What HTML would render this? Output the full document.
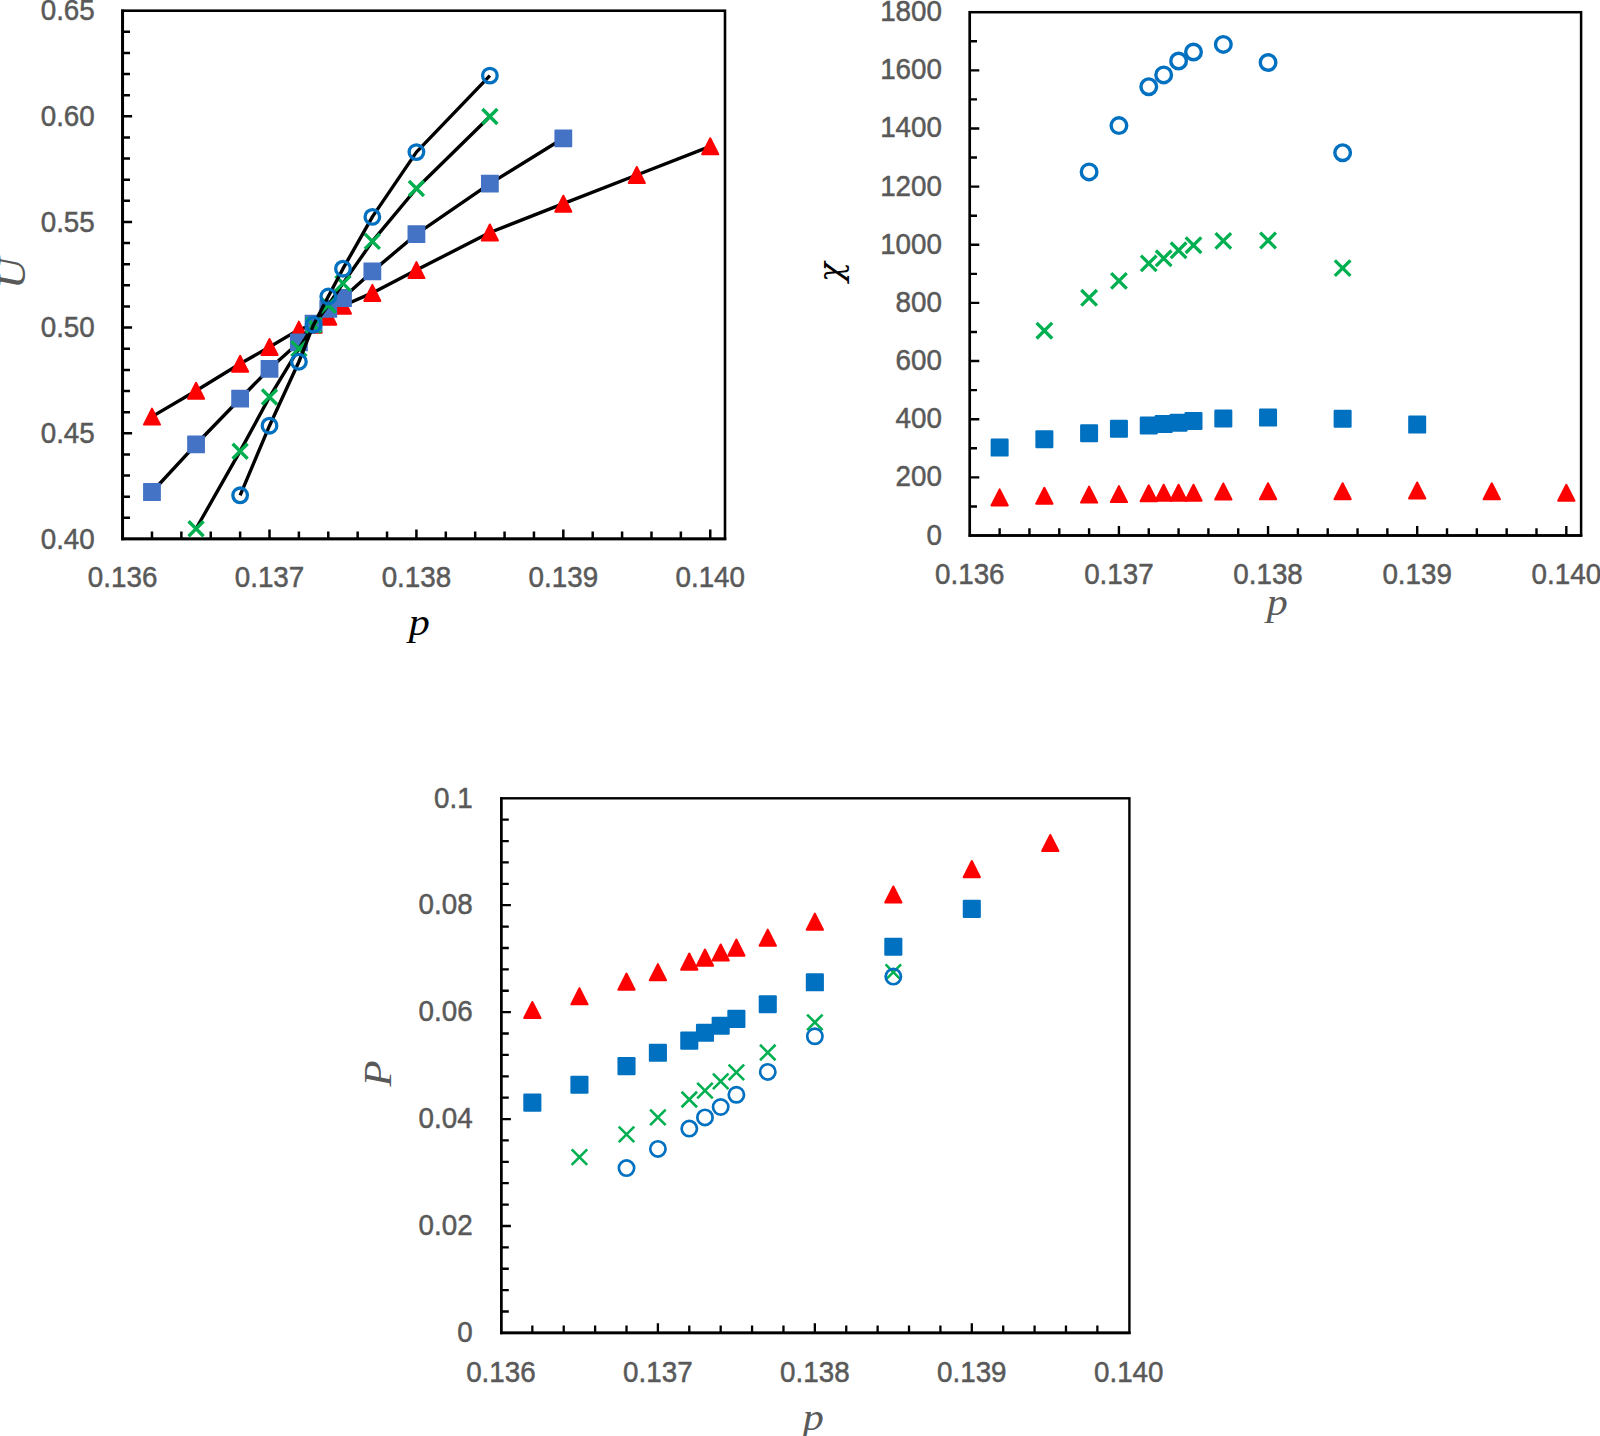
<!DOCTYPE html>
<html lang="en">
<head>
<meta charset="utf-8">
<title>U, χ and P versus p</title>
<style>
html,body{margin:0;padding:0;background:#fff;}
body{width:1600px;height:1436px;overflow:hidden;}
svg{display:block;}
svg text{font-family:"Liberation Sans",sans-serif;font-size:28.6px;fill:#595959;}
svg g.lab text{stroke:#595959;stroke-width:0.5px;}
svg text.it{font-family:"Liberation Serif",serif;font-style:italic;}
svg text.chi{font-family:"DejaVu Serif","Liberation Serif",serif;font-style:italic;}
</style>
</head>
<body>
<svg width="1600" height="1436" viewBox="0 0 1600 1436">
<rect width="1600" height="1436" fill="#fff"/>
<g id="chart1">
<rect x="122.6" y="10.7" width="602.4" height="528.2" fill="none" stroke="#000" stroke-width="2.6"/>
<path d="M122.6 9.4V540.3" fill="none" stroke="#000" stroke-width="2.9"/>
<path d="M121.15 538.9H726.3" fill="none" stroke="#000" stroke-width="2.8"/>
<path d="M122.6 433.26h9.5M122.6 327.62h9.5M122.6 221.98h9.5M122.6 116.34h9.5M122.6 517.77h7.4M122.6 496.64h7.4M122.6 475.52h7.4M122.6 454.39h7.4M122.6 412.13h7.4M122.6 391h7.4M122.6 369.88h7.4M122.6 348.75h7.4M122.6 306.49h7.4M122.6 285.36h7.4M122.6 264.24h7.4M122.6 243.11h7.4M122.6 200.85h7.4M122.6 179.72h7.4M122.6 158.6h7.4M122.6 137.47h7.4M122.6 95.21h7.4M122.6 74.08h7.4M122.6 52.96h7.4M122.6 31.83h7.4M269.51 538.9v-9.5M416.42 538.9v-9.5M563.33 538.9v-9.5M710.24 538.9v-9.5M151.98 538.9v-7.4M181.36 538.9v-7.4M210.75 538.9v-7.4M240.13 538.9v-7.4M298.89 538.9v-7.4M328.27 538.9v-7.4M357.66 538.9v-7.4M387.04 538.9v-7.4M445.8 538.9v-7.4M475.18 538.9v-7.4M504.57 538.9v-7.4M533.95 538.9v-7.4M592.71 538.9v-7.4M622.09 538.9v-7.4M651.48 538.9v-7.4M680.86 538.9v-7.4" fill="none" stroke="#000" stroke-width="2.5"/>
<g class="lab">
<text x="94.8" y="548.5" text-anchor="end" textLength="54.1" lengthAdjust="spacingAndGlyphs">0.40</text>
<text x="94.8" y="442.86" text-anchor="end" textLength="54.1" lengthAdjust="spacingAndGlyphs">0.45</text>
<text x="94.8" y="337.22" text-anchor="end" textLength="54.1" lengthAdjust="spacingAndGlyphs">0.50</text>
<text x="94.8" y="231.58" text-anchor="end" textLength="54.1" lengthAdjust="spacingAndGlyphs">0.55</text>
<text x="94.8" y="125.94" text-anchor="end" textLength="54.1" lengthAdjust="spacingAndGlyphs">0.60</text>
<text x="94.8" y="20.3" text-anchor="end" textLength="54.1" lengthAdjust="spacingAndGlyphs">0.65</text>
</g>
<g class="lab">
<text x="122.6" y="587.3" text-anchor="middle" textLength="69.56" lengthAdjust="spacingAndGlyphs">0.136</text>
<text x="269.51" y="587.3" text-anchor="middle" textLength="69.56" lengthAdjust="spacingAndGlyphs">0.137</text>
<text x="416.42" y="587.3" text-anchor="middle" textLength="69.56" lengthAdjust="spacingAndGlyphs">0.138</text>
<text x="563.33" y="587.3" text-anchor="middle" textLength="69.56" lengthAdjust="spacingAndGlyphs">0.139</text>
<text x="710.24" y="587.3" text-anchor="middle" textLength="69.56" lengthAdjust="spacingAndGlyphs">0.140</text>
</g>
<polyline points="151.98,416.6 196.06,390.8 240.13,363.8 269.51,347 298.89,329.6 313.58,324.8 328.27,316.7 342.97,305.7 372.35,292.9 416.42,270.1 489.88,232.5 563.33,203.7 636.79,175 710.24,146.3" fill="none" stroke="#000" stroke-width="3.4" stroke-linejoin="round"/>
<path d="M151.98 408.6L160.03 424.6L143.93 424.6Z" fill="#FF0000" stroke="#FF0000" stroke-width="2" stroke-linejoin="round"/>
<path d="M196.06 382.8L204.11 398.8L188.01 398.8Z" fill="#FF0000" stroke="#FF0000" stroke-width="2" stroke-linejoin="round"/>
<path d="M240.13 355.8L248.18 371.8L232.08 371.8Z" fill="#FF0000" stroke="#FF0000" stroke-width="2" stroke-linejoin="round"/>
<path d="M269.51 339L277.56 355L261.46 355Z" fill="#FF0000" stroke="#FF0000" stroke-width="2" stroke-linejoin="round"/>
<path d="M298.89 321.6L306.94 337.6L290.84 337.6Z" fill="#FF0000" stroke="#FF0000" stroke-width="2" stroke-linejoin="round"/>
<path d="M313.58 316.8L321.63 332.8L305.53 332.8Z" fill="#FF0000" stroke="#FF0000" stroke-width="2" stroke-linejoin="round"/>
<path d="M328.27 308.7L336.32 324.7L320.22 324.7Z" fill="#FF0000" stroke="#FF0000" stroke-width="2" stroke-linejoin="round"/>
<path d="M342.97 297.7L351.02 313.7L334.92 313.7Z" fill="#FF0000" stroke="#FF0000" stroke-width="2" stroke-linejoin="round"/>
<path d="M372.35 284.9L380.4 300.9L364.3 300.9Z" fill="#FF0000" stroke="#FF0000" stroke-width="2" stroke-linejoin="round"/>
<path d="M416.42 262.1L424.47 278.1L408.37 278.1Z" fill="#FF0000" stroke="#FF0000" stroke-width="2" stroke-linejoin="round"/>
<path d="M489.88 224.5L497.93 240.5L481.83 240.5Z" fill="#FF0000" stroke="#FF0000" stroke-width="2" stroke-linejoin="round"/>
<path d="M563.33 195.7L571.38 211.7L555.28 211.7Z" fill="#FF0000" stroke="#FF0000" stroke-width="2" stroke-linejoin="round"/>
<path d="M636.79 167L644.84 183L628.74 183Z" fill="#FF0000" stroke="#FF0000" stroke-width="2" stroke-linejoin="round"/>
<path d="M710.24 138.3L718.29 154.3L702.19 154.3Z" fill="#FF0000" stroke="#FF0000" stroke-width="2" stroke-linejoin="round"/>
<polyline points="151.98,492 196.06,444.3 240.13,398.7 269.51,368.8 298.89,342.4 313.58,323.6 328.27,308.8 342.97,298 372.35,271.4 416.42,234.2 489.88,183.6 563.33,138.3" fill="none" stroke="#000" stroke-width="3.4" stroke-linejoin="round"/>
<rect x="143.08" y="483.1" width="17.8" height="17.8" rx="0.5" fill="#4472C4"/>
<rect x="187.16" y="435.4" width="17.8" height="17.8" rx="0.5" fill="#4472C4"/>
<rect x="231.23" y="389.8" width="17.8" height="17.8" rx="0.5" fill="#4472C4"/>
<rect x="260.61" y="359.9" width="17.8" height="17.8" rx="0.5" fill="#4472C4"/>
<rect x="289.99" y="333.5" width="17.8" height="17.8" rx="0.5" fill="#4472C4"/>
<rect x="304.68" y="314.7" width="17.8" height="17.8" rx="0.5" fill="#4472C4"/>
<rect x="319.37" y="299.9" width="17.8" height="17.8" rx="0.5" fill="#4472C4"/>
<rect x="334.07" y="289.1" width="17.8" height="17.8" rx="0.5" fill="#4472C4"/>
<rect x="363.45" y="262.5" width="17.8" height="17.8" rx="0.5" fill="#4472C4"/>
<rect x="407.52" y="225.3" width="17.8" height="17.8" rx="0.5" fill="#4472C4"/>
<rect x="480.98" y="174.7" width="17.8" height="17.8" rx="0.5" fill="#4472C4"/>
<rect x="554.43" y="129.4" width="17.8" height="17.8" rx="0.5" fill="#4472C4"/>
<polyline points="196.06,528.75 240.13,451.2 269.51,397.05 298.89,348.6 313.58,325.3 328.27,305.3 342.97,283.4 372.35,241.4 416.42,188.5 489.88,116.5" fill="none" stroke="#000" stroke-width="3.4" stroke-linejoin="round"/>
<path d="M188.56 521.25L203.56 536.25M188.56 536.25L203.56 521.25" stroke="#00B050" stroke-width="3.4" fill="none"/>
<path d="M232.63 443.7L247.63 458.7M232.63 458.7L247.63 443.7" stroke="#00B050" stroke-width="3.4" fill="none"/>
<path d="M262.01 389.55L277.01 404.55M262.01 404.55L277.01 389.55" stroke="#00B050" stroke-width="3.4" fill="none"/>
<path d="M291.39 341.1L306.39 356.1M291.39 356.1L306.39 341.1" stroke="#00B050" stroke-width="3.4" fill="none"/>
<path d="M306.08 317.8L321.08 332.8M306.08 332.8L321.08 317.8" stroke="#00B050" stroke-width="3.4" fill="none"/>
<path d="M320.77 297.8L335.77 312.8M320.77 312.8L335.77 297.8" stroke="#00B050" stroke-width="3.4" fill="none"/>
<path d="M335.47 275.9L350.47 290.9M335.47 290.9L350.47 275.9" stroke="#00B050" stroke-width="3.4" fill="none"/>
<path d="M364.85 233.9L379.85 248.9M364.85 248.9L379.85 233.9" stroke="#00B050" stroke-width="3.4" fill="none"/>
<path d="M408.92 181L423.92 196M408.92 196L423.92 181" stroke="#00B050" stroke-width="3.4" fill="none"/>
<path d="M482.38 109L497.38 124M482.38 124L497.38 109" stroke="#00B050" stroke-width="3.4" fill="none"/>
<polyline points="240.13,495.3 269.51,425.7 298.89,361.75 313.58,324.7 328.27,296.5 342.97,268.7 372.35,216.9 416.42,152.1 489.88,75.6" fill="none" stroke="#000" stroke-width="3.4" stroke-linejoin="round"/>
<circle cx="240.13" cy="495.3" r="7.3" stroke="#0070C0" stroke-width="3.3" fill="none"/>
<circle cx="269.51" cy="425.7" r="7.3" stroke="#0070C0" stroke-width="3.3" fill="none"/>
<circle cx="298.89" cy="361.75" r="7.3" stroke="#0070C0" stroke-width="3.3" fill="none"/>
<circle cx="313.58" cy="324.7" r="7.3" stroke="#0070C0" stroke-width="3.3" fill="none"/>
<circle cx="328.27" cy="296.5" r="7.3" stroke="#0070C0" stroke-width="3.3" fill="none"/>
<circle cx="342.97" cy="268.7" r="7.3" stroke="#0070C0" stroke-width="3.3" fill="none"/>
<circle cx="372.35" cy="216.9" r="7.3" stroke="#0070C0" stroke-width="3.3" fill="none"/>
<circle cx="416.42" cy="152.1" r="7.3" stroke="#0070C0" stroke-width="3.3" fill="none"/>
<circle cx="489.88" cy="75.6" r="7.3" stroke="#0070C0" stroke-width="3.3" fill="none"/>
<text class="it" transform="translate(419.2 635) scale(1.14 1)" text-anchor="middle" style="font-size:37px;fill:#000">p</text>
<text class="it" transform="translate(24.8 273.2) rotate(-90) scale(1.09 1)" text-anchor="middle" style="font-size:40px;fill:#595959">U</text>
</g>
<g id="chart2">
<rect x="969.8" y="12.2" width="611.3" height="523.3" fill="none" stroke="#000" stroke-width="2.5"/>
<path d="M969.8 10.95V536.85" fill="none" stroke="#000" stroke-width="2.3"/>
<path d="M968.65 535.5H1582.35" fill="none" stroke="#000" stroke-width="2.7"/>
<path d="M969.8 477.36h9.5M969.8 419.21h9.5M969.8 361.07h9.5M969.8 302.92h9.5M969.8 244.78h9.5M969.8 186.63h9.5M969.8 128.49h9.5M969.8 70.34h9.5M969.8 506.43h7.2M969.8 448.28h7.2M969.8 390.14h7.2M969.8 331.99h7.2M969.8 273.85h7.2M969.8 215.71h7.2M969.8 157.56h7.2M969.8 99.42h7.2M969.8 41.27h7.2M1118.93 535.5v-9.5M1268.06 535.5v-9.5M1417.19 535.5v-9.5M1566.32 535.5v-9.5M999.63 535.5v-7.2M1029.45 535.5v-7.2M1059.28 535.5v-7.2M1089.1 535.5v-7.2M1148.76 535.5v-7.2M1178.58 535.5v-7.2M1208.41 535.5v-7.2M1238.23 535.5v-7.2M1297.89 535.5v-7.2M1327.71 535.5v-7.2M1357.54 535.5v-7.2M1387.36 535.5v-7.2M1447.02 535.5v-7.2M1476.84 535.5v-7.2M1506.67 535.5v-7.2M1536.49 535.5v-7.2" fill="none" stroke="#000" stroke-width="2.4"/>
<g class="lab">
<text x="942" y="544.5" text-anchor="end" textLength="15.46" lengthAdjust="spacingAndGlyphs">0</text>
<text x="942" y="486.36" text-anchor="end" textLength="46.38" lengthAdjust="spacingAndGlyphs">200</text>
<text x="942" y="428.21" text-anchor="end" textLength="46.38" lengthAdjust="spacingAndGlyphs">400</text>
<text x="942" y="370.07" text-anchor="end" textLength="46.38" lengthAdjust="spacingAndGlyphs">600</text>
<text x="942" y="311.92" text-anchor="end" textLength="46.38" lengthAdjust="spacingAndGlyphs">800</text>
<text x="942" y="253.78" text-anchor="end" textLength="61.84" lengthAdjust="spacingAndGlyphs">1000</text>
<text x="942" y="195.63" text-anchor="end" textLength="61.84" lengthAdjust="spacingAndGlyphs">1200</text>
<text x="942" y="137.49" text-anchor="end" textLength="61.84" lengthAdjust="spacingAndGlyphs">1400</text>
<text x="942" y="79.34" text-anchor="end" textLength="61.84" lengthAdjust="spacingAndGlyphs">1600</text>
<text x="942" y="21.2" text-anchor="end" textLength="61.84" lengthAdjust="spacingAndGlyphs">1800</text>
</g>
<g class="lab">
<text x="969.8" y="583.9" text-anchor="middle" textLength="69.56" lengthAdjust="spacingAndGlyphs">0.136</text>
<text x="1118.93" y="583.9" text-anchor="middle" textLength="69.56" lengthAdjust="spacingAndGlyphs">0.137</text>
<text x="1268.06" y="583.9" text-anchor="middle" textLength="69.56" lengthAdjust="spacingAndGlyphs">0.138</text>
<text x="1417.19" y="583.9" text-anchor="middle" textLength="69.56" lengthAdjust="spacingAndGlyphs">0.139</text>
<text x="1566.32" y="583.9" text-anchor="middle" textLength="69.56" lengthAdjust="spacingAndGlyphs">0.140</text>
</g>
<path d="M999.63 489.4L1007.78 505.4L991.48 505.4Z" fill="#FF0000" stroke="#FF0000" stroke-width="2" stroke-linejoin="round"/>
<path d="M1044.37 487.8L1052.52 503.8L1036.21 503.8Z" fill="#FF0000" stroke="#FF0000" stroke-width="2" stroke-linejoin="round"/>
<path d="M1089.1 486.6L1097.25 502.6L1080.95 502.6Z" fill="#FF0000" stroke="#FF0000" stroke-width="2" stroke-linejoin="round"/>
<path d="M1118.93 486.1L1127.08 502.1L1110.78 502.1Z" fill="#FF0000" stroke="#FF0000" stroke-width="2" stroke-linejoin="round"/>
<path d="M1148.76 485.3L1156.91 501.3L1140.61 501.3Z" fill="#FF0000" stroke="#FF0000" stroke-width="2" stroke-linejoin="round"/>
<path d="M1163.67 484.7L1171.82 500.7L1155.52 500.7Z" fill="#FF0000" stroke="#FF0000" stroke-width="2" stroke-linejoin="round"/>
<path d="M1178.58 484.7L1186.73 500.7L1170.43 500.7Z" fill="#FF0000" stroke="#FF0000" stroke-width="2" stroke-linejoin="round"/>
<path d="M1193.5 484.7L1201.65 500.7L1185.35 500.7Z" fill="#FF0000" stroke="#FF0000" stroke-width="2" stroke-linejoin="round"/>
<path d="M1223.32 483.5L1231.47 499.5L1215.17 499.5Z" fill="#FF0000" stroke="#FF0000" stroke-width="2" stroke-linejoin="round"/>
<path d="M1268.06 483.2L1276.21 499.2L1259.91 499.2Z" fill="#FF0000" stroke="#FF0000" stroke-width="2" stroke-linejoin="round"/>
<path d="M1342.63 483.2L1350.78 499.2L1334.48 499.2Z" fill="#FF0000" stroke="#FF0000" stroke-width="2" stroke-linejoin="round"/>
<path d="M1417.19 482.5L1425.34 498.5L1409.04 498.5Z" fill="#FF0000" stroke="#FF0000" stroke-width="2" stroke-linejoin="round"/>
<path d="M1491.76 483.3L1499.91 499.3L1483.61 499.3Z" fill="#FF0000" stroke="#FF0000" stroke-width="2" stroke-linejoin="round"/>
<path d="M1566.32 484.8L1574.47 500.8L1558.17 500.8Z" fill="#FF0000" stroke="#FF0000" stroke-width="2" stroke-linejoin="round"/>
<rect x="990.63" y="438.6" width="18" height="18" rx="1.2" fill="#0070C0"/>
<rect x="1035.37" y="430.2" width="18" height="18" rx="1.2" fill="#0070C0"/>
<rect x="1080.1" y="424.2" width="18" height="18" rx="1.2" fill="#0070C0"/>
<rect x="1109.93" y="419.8" width="18" height="18" rx="1.2" fill="#0070C0"/>
<rect x="1139.76" y="416.5" width="18" height="18" rx="1.2" fill="#0070C0"/>
<rect x="1154.67" y="415.1" width="18" height="18" rx="1.2" fill="#0070C0"/>
<rect x="1169.58" y="413.8" width="18" height="18" rx="1.2" fill="#0070C0"/>
<rect x="1184.5" y="411.9" width="18" height="18" rx="1.2" fill="#0070C0"/>
<rect x="1214.32" y="409.5" width="18" height="18" rx="1.2" fill="#0070C0"/>
<rect x="1259.06" y="408.6" width="18" height="18" rx="1.2" fill="#0070C0"/>
<rect x="1333.63" y="409.7" width="18" height="18" rx="1.2" fill="#0070C0"/>
<rect x="1408.19" y="415.6" width="18" height="18" rx="1.2" fill="#0070C0"/>
<path d="M1036.57 322.9L1052.16 338.5M1036.57 338.5L1052.16 322.9" stroke="#00B050" stroke-width="3.3" fill="none"/>
<path d="M1081.3 290L1096.9 305.6M1081.3 305.6L1096.9 290" stroke="#00B050" stroke-width="3.3" fill="none"/>
<path d="M1111.13 273.1L1126.73 288.7M1111.13 288.7L1126.73 273.1" stroke="#00B050" stroke-width="3.3" fill="none"/>
<path d="M1140.96 255.6L1156.56 271.2M1140.96 271.2L1156.56 255.6" stroke="#00B050" stroke-width="3.3" fill="none"/>
<path d="M1155.87 250.5L1171.47 266.1M1155.87 266.1L1171.47 250.5" stroke="#00B050" stroke-width="3.3" fill="none"/>
<path d="M1170.78 242.5L1186.38 258.1M1170.78 258.1L1186.38 242.5" stroke="#00B050" stroke-width="3.3" fill="none"/>
<path d="M1185.7 237.4L1201.3 253M1185.7 253L1201.3 237.4" stroke="#00B050" stroke-width="3.3" fill="none"/>
<path d="M1215.52 233.1L1231.12 248.7M1215.52 248.7L1231.12 233.1" stroke="#00B050" stroke-width="3.3" fill="none"/>
<path d="M1260.26 232.7L1275.86 248.3M1260.26 248.3L1275.86 232.7" stroke="#00B050" stroke-width="3.3" fill="none"/>
<path d="M1334.83 260.3L1350.43 275.9M1334.83 275.9L1350.43 260.3" stroke="#00B050" stroke-width="3.3" fill="none"/>
<circle cx="1089.1" cy="171.9" r="7.8" stroke="#0070C0" stroke-width="3.4" fill="none"/>
<circle cx="1118.93" cy="125.6" r="7.8" stroke="#0070C0" stroke-width="3.4" fill="none"/>
<circle cx="1148.76" cy="86.7" r="7.8" stroke="#0070C0" stroke-width="3.4" fill="none"/>
<circle cx="1163.67" cy="74.9" r="7.8" stroke="#0070C0" stroke-width="3.4" fill="none"/>
<circle cx="1178.58" cy="61" r="7.8" stroke="#0070C0" stroke-width="3.4" fill="none"/>
<circle cx="1193.5" cy="52" r="7.8" stroke="#0070C0" stroke-width="3.4" fill="none"/>
<circle cx="1223.32" cy="44.4" r="7.8" stroke="#0070C0" stroke-width="3.4" fill="none"/>
<circle cx="1268.06" cy="62.5" r="7.8" stroke="#0070C0" stroke-width="3.4" fill="none"/>
<circle cx="1342.63" cy="152.7" r="7.8" stroke="#0070C0" stroke-width="3.4" fill="none"/>
<text class="it" transform="translate(1277.4 615.3) scale(1.14 1)" text-anchor="middle" style="font-size:37px;fill:#595959">p</text>
<text class="chi" transform="translate(842.2 272) rotate(-90) scale(1 1)" text-anchor="middle" style="font-size:33px;fill:#000">χ</text>
</g>
<g id="chart3">
<rect x="501.3" y="798.3" width="628.1" height="534.6" fill="none" stroke="#000" stroke-width="2.4"/>
<path d="M501.3 797.1V1334.2" fill="none" stroke="#000" stroke-width="2.3"/>
<path d="M500.15 1332.9H1130.6" fill="none" stroke="#000" stroke-width="2.6"/>
<path d="M501.3 1225.98h9.6M501.3 1119.06h9.6M501.3 1012.14h9.6M501.3 905.22h9.6M501.3 1311.52h7.5M501.3 1290.13h7.5M501.3 1268.75h7.5M501.3 1247.36h7.5M501.3 1204.6h7.5M501.3 1183.21h7.5M501.3 1161.83h7.5M501.3 1140.44h7.5M501.3 1097.68h7.5M501.3 1076.29h7.5M501.3 1054.91h7.5M501.3 1033.52h7.5M501.3 990.76h7.5M501.3 969.37h7.5M501.3 947.99h7.5M501.3 926.6h7.5M501.3 883.84h7.5M501.3 862.45h7.5M501.3 841.07h7.5M501.3 819.68h7.5M657.9 1332.9v-9.6M814.85 1332.9v-9.6M971.8 1332.9v-9.6M532.34 1332.9v-7.5M563.73 1332.9v-7.5M595.12 1332.9v-7.5M626.51 1332.9v-7.5M689.29 1332.9v-7.5M720.68 1332.9v-7.5M752.07 1332.9v-7.5M783.46 1332.9v-7.5M846.24 1332.9v-7.5M877.63 1332.9v-7.5M909.02 1332.9v-7.5M940.41 1332.9v-7.5M1003.19 1332.9v-7.5M1034.58 1332.9v-7.5M1065.97 1332.9v-7.5M1097.36 1332.9v-7.5" fill="none" stroke="#000" stroke-width="2.3"/>
<g class="lab">
<text x="472.7" y="1342.1" text-anchor="end" textLength="15.46" lengthAdjust="spacingAndGlyphs">0</text>
<text x="472.7" y="1235.18" text-anchor="end" textLength="54.1" lengthAdjust="spacingAndGlyphs">0.02</text>
<text x="472.7" y="1128.26" text-anchor="end" textLength="54.1" lengthAdjust="spacingAndGlyphs">0.04</text>
<text x="472.7" y="1021.34" text-anchor="end" textLength="54.1" lengthAdjust="spacingAndGlyphs">0.06</text>
<text x="472.7" y="914.42" text-anchor="end" textLength="54.1" lengthAdjust="spacingAndGlyphs">0.08</text>
<text x="472.7" y="807.5" text-anchor="end" textLength="38.64" lengthAdjust="spacingAndGlyphs">0.1</text>
</g>
<g class="lab">
<text x="500.95" y="1381.6" text-anchor="middle" textLength="69.56" lengthAdjust="spacingAndGlyphs">0.136</text>
<text x="657.9" y="1381.6" text-anchor="middle" textLength="69.56" lengthAdjust="spacingAndGlyphs">0.137</text>
<text x="814.85" y="1381.6" text-anchor="middle" textLength="69.56" lengthAdjust="spacingAndGlyphs">0.138</text>
<text x="971.8" y="1381.6" text-anchor="middle" textLength="69.56" lengthAdjust="spacingAndGlyphs">0.139</text>
<text x="1128.75" y="1381.6" text-anchor="middle" textLength="69.56" lengthAdjust="spacingAndGlyphs">0.140</text>
</g>
<path d="M532.34 1001.95L540.49 1018.05L524.19 1018.05Z" fill="#FF0000" stroke="#FF0000" stroke-width="2" stroke-linejoin="round"/>
<path d="M579.43 988.25L587.58 1004.35L571.28 1004.35Z" fill="#FF0000" stroke="#FF0000" stroke-width="2" stroke-linejoin="round"/>
<path d="M626.51 973.55L634.66 989.65L618.36 989.65Z" fill="#FF0000" stroke="#FF0000" stroke-width="2" stroke-linejoin="round"/>
<path d="M657.9 964.15L666.05 980.25L649.75 980.25Z" fill="#FF0000" stroke="#FF0000" stroke-width="2" stroke-linejoin="round"/>
<path d="M689.29 953.55L697.44 969.65L681.14 969.65Z" fill="#FF0000" stroke="#FF0000" stroke-width="2" stroke-linejoin="round"/>
<path d="M704.98 949.55L713.13 965.65L696.83 965.65Z" fill="#FF0000" stroke="#FF0000" stroke-width="2" stroke-linejoin="round"/>
<path d="M720.68 944.45L728.83 960.55L712.53 960.55Z" fill="#FF0000" stroke="#FF0000" stroke-width="2" stroke-linejoin="round"/>
<path d="M736.38 939.55L744.53 955.65L728.23 955.65Z" fill="#FF0000" stroke="#FF0000" stroke-width="2" stroke-linejoin="round"/>
<path d="M767.76 929.65L775.91 945.75L759.61 945.75Z" fill="#FF0000" stroke="#FF0000" stroke-width="2" stroke-linejoin="round"/>
<path d="M814.85 913.65L823 929.75L806.7 929.75Z" fill="#FF0000" stroke="#FF0000" stroke-width="2" stroke-linejoin="round"/>
<path d="M893.33 886.45L901.48 902.55L885.18 902.55Z" fill="#FF0000" stroke="#FF0000" stroke-width="2" stroke-linejoin="round"/>
<path d="M971.8 861.05L979.95 877.15L963.65 877.15Z" fill="#FF0000" stroke="#FF0000" stroke-width="2" stroke-linejoin="round"/>
<path d="M1050.28 834.95L1058.43 851.05L1042.13 851.05Z" fill="#FF0000" stroke="#FF0000" stroke-width="2" stroke-linejoin="round"/>
<rect x="523.29" y="1093.55" width="18.1" height="18.1" rx="1.2" fill="#0070C0"/>
<rect x="570.38" y="1075.65" width="18.1" height="18.1" rx="1.2" fill="#0070C0"/>
<rect x="617.46" y="1057.05" width="18.1" height="18.1" rx="1.2" fill="#0070C0"/>
<rect x="648.85" y="1043.75" width="18.1" height="18.1" rx="1.2" fill="#0070C0"/>
<rect x="680.24" y="1031.55" width="18.1" height="18.1" rx="1.2" fill="#0070C0"/>
<rect x="695.93" y="1023.75" width="18.1" height="18.1" rx="1.2" fill="#0070C0"/>
<rect x="711.63" y="1016.65" width="18.1" height="18.1" rx="1.2" fill="#0070C0"/>
<rect x="727.33" y="1009.85" width="18.1" height="18.1" rx="1.2" fill="#0070C0"/>
<rect x="758.71" y="995.15" width="18.1" height="18.1" rx="1.2" fill="#0070C0"/>
<rect x="805.8" y="973.25" width="18.1" height="18.1" rx="1.2" fill="#0070C0"/>
<rect x="884.28" y="937.65" width="18.1" height="18.1" rx="1.2" fill="#0070C0"/>
<rect x="962.75" y="899.85" width="18.1" height="18.1" rx="1.2" fill="#0070C0"/>
<path d="M571.68 1149.45L587.18 1164.95M571.68 1164.95L587.18 1149.45" stroke="#00B050" stroke-width="2.6" fill="none"/>
<path d="M618.76 1126.55L634.26 1142.05M618.76 1142.05L634.26 1126.55" stroke="#00B050" stroke-width="2.6" fill="none"/>
<path d="M650.15 1109.65L665.65 1125.15M650.15 1125.15L665.65 1109.65" stroke="#00B050" stroke-width="2.6" fill="none"/>
<path d="M681.54 1091.75L697.04 1107.25M681.54 1107.25L697.04 1091.75" stroke="#00B050" stroke-width="2.6" fill="none"/>
<path d="M697.23 1082.95L712.73 1098.45M697.23 1098.45L712.73 1082.95" stroke="#00B050" stroke-width="2.6" fill="none"/>
<path d="M712.93 1073.55L728.43 1089.05M712.93 1089.05L728.43 1073.55" stroke="#00B050" stroke-width="2.6" fill="none"/>
<path d="M728.63 1064.55L744.13 1080.05M728.63 1080.05L744.13 1064.55" stroke="#00B050" stroke-width="2.6" fill="none"/>
<path d="M760.01 1044.75L775.51 1060.25M760.01 1060.25L775.51 1044.75" stroke="#00B050" stroke-width="2.6" fill="none"/>
<path d="M807.1 1014.55L822.6 1030.05M807.1 1030.05L822.6 1014.55" stroke="#00B050" stroke-width="2.6" fill="none"/>
<path d="M885.58 964.35L901.08 979.85M885.58 979.85L901.08 964.35" stroke="#00B050" stroke-width="2.6" fill="none"/>
<circle cx="626.51" cy="1168.1" r="7.65" stroke="#0070C0" stroke-width="2.7" fill="none"/>
<circle cx="657.9" cy="1148.9" r="7.65" stroke="#0070C0" stroke-width="2.7" fill="none"/>
<circle cx="689.29" cy="1128.6" r="7.65" stroke="#0070C0" stroke-width="2.7" fill="none"/>
<circle cx="704.98" cy="1117.4" r="7.65" stroke="#0070C0" stroke-width="2.7" fill="none"/>
<circle cx="720.68" cy="1107" r="7.65" stroke="#0070C0" stroke-width="2.7" fill="none"/>
<circle cx="736.38" cy="1094.8" r="7.65" stroke="#0070C0" stroke-width="2.7" fill="none"/>
<circle cx="767.76" cy="1071.9" r="7.65" stroke="#0070C0" stroke-width="2.7" fill="none"/>
<circle cx="814.85" cy="1036.3" r="7.65" stroke="#0070C0" stroke-width="2.7" fill="none"/>
<circle cx="893.33" cy="976.6" r="7.65" stroke="#0070C0" stroke-width="2.7" fill="none"/>
<text class="it" transform="translate(813.4 1429.8) scale(1.14 1)" text-anchor="middle" style="font-size:37px;fill:#595959">p</text>
<text class="it" transform="translate(390.9 1073.6) rotate(-90) scale(1.05 1)" text-anchor="middle" style="font-size:40.5px;fill:#595959">P</text>
</g>
</svg>
</body>
</html>
